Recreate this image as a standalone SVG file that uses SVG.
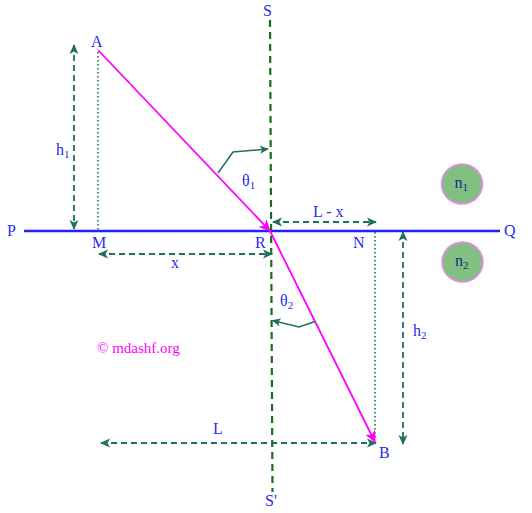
<svg xmlns="http://www.w3.org/2000/svg" width="532" height="513" viewBox="0 0 532 513">
<defs>
<style>
.lbl{font-family:"Liberation Serif","Times New Roman",serif;font-size:16px;fill:#2a2af0;}
.sub{font-size:11px;}
.dim{stroke:#1f6e62;stroke-width:1.8;stroke-dasharray:6,4;fill:none;}
.dot{stroke:#1f6e62;stroke-width:1.6;stroke-dasharray:1.5,2.5;fill:none;}
.norm{stroke:#1a6e1a;stroke-width:2.2;stroke-dasharray:7,5;fill:none;}
.ray{stroke:#ff00ff;stroke-width:1.8;fill:none;}
.lead{stroke:#1f6e62;stroke-width:1.5;fill:none;}
.med{fill:#82bf82;stroke:#ee88ee;stroke-width:1.5;}
.n{font-family:"Liberation Serif","Times New Roman",serif;font-size:16px;fill:#1a2a7a;}
</style>
<marker id="ah" viewBox="0 0 10 10" refX="9" refY="5" markerWidth="10" markerHeight="10" orient="auto-start-reverse" markerUnits="userSpaceOnUse">
<path d="M0,0.5 L10,5 L0,9.5 L2.5,5 z" fill="#1f6e62"/>
</marker>
<marker id="am" viewBox="0 0 10 10" refX="9" refY="5" markerWidth="12" markerHeight="12" orient="auto" markerUnits="userSpaceOnUse">
<path d="M0,0.5 L10,5 L0,9.5 L2.5,5 z" fill="#ff00ff"/>
</marker>
<marker id="al" viewBox="0 0 10 10" refX="9" refY="5" markerWidth="9" markerHeight="9" orient="auto" markerUnits="userSpaceOnUse">
<path d="M0,0.5 L10,5 L0,9.5 L2.5,5 z" fill="#1f6e62"/>
</marker>
</defs>
<g id="surface">
<line x1="24" y1="231" x2="500" y2="231" stroke="#2020ff" stroke-width="2.6"/>
<text class="lbl" x="7" y="236">P</text>
<text class="lbl" x="504" y="236">Q</text>
</g>
<g id="normal">
<line class="norm" x1="270" y1="20" x2="272.5" y2="492"/>
<text class="lbl" x="263" y="16">S</text>
<text class="lbl" x="265" y="506">S'</text>
</g>
<g id="connectors">
<line class="dot" x1="98" y1="52" x2="98" y2="231"/>
<line class="dot" x1="375" y1="232" x2="375" y2="440"/>
<line class="dim" x1="74" y1="45" x2="74" y2="229" marker-start="url(#ah)" marker-end="url(#ah)"/>
<line class="dim" x1="99" y1="254" x2="272" y2="254" marker-start="url(#ah)" marker-end="url(#ah)"/>
<line class="dim" x1="273" y1="222" x2="376" y2="222" marker-start="url(#ah)" marker-end="url(#ah)"/>
<line class="dim" x1="403" y1="232" x2="403" y2="444" marker-start="url(#ah)" marker-end="url(#ah)"/>
<line class="dim" x1="101" y1="443" x2="376" y2="443" marker-start="url(#ah)" marker-end="url(#ah)"/>
<line class="ray" x1="98" y1="50" x2="270" y2="231" marker-end="url(#am)"/>
<line class="ray" x1="270" y1="231" x2="375" y2="442" marker-end="url(#am)"/>
<polyline class="lead" points="218,173 233,152 268,149" marker-end="url(#al)"/>
<polyline class="lead" points="315,321.5 299,327 272.5,320.5" marker-end="url(#al)"/>
</g>
<g id="A"><text class="lbl" x="91" y="47">A</text></g>
<g id="B"><text class="lbl" x="379" y="458">B</text></g>
<g id="M"><text class="lbl" x="92" y="248">M</text></g>
<g id="R"><text class="lbl" x="255" y="248">R</text></g>
<g id="N"><text class="lbl" x="353" y="248">N</text></g>
<g id="labels">
<text class="lbl" x="56" y="155">h<tspan class="sub" dy="3">1</tspan></text>
<text class="lbl" x="413" y="336">h<tspan class="sub" dy="3">2</tspan></text>
<text class="lbl" x="171" y="268">x</text>
<text class="lbl" x="313" y="217">L - x</text>
<text class="lbl" x="213" y="434">L</text>
<text class="lbl" x="242" y="186">θ<tspan class="sub" dy="3">1</tspan></text>
<text class="lbl" x="280" y="306">θ<tspan class="sub" dy="3">2</tspan></text>
<text x="97" y="353" font-family="'Liberation Serif','Times New Roman',serif" font-size="15" fill="#ff00ff">© mdashf.org</text>
</g>
<g id="n1">
<ellipse class="med" cx="462" cy="184" rx="20.5" ry="20"/>
<text class="n" x="454.5" y="188">n<tspan class="sub" dy="3">1</tspan></text>
</g>
<g id="n2">
<ellipse class="med" cx="462.5" cy="262" rx="20.5" ry="20"/>
<text class="n" x="455" y="266">n<tspan class="sub" dy="3">2</tspan></text>
</g>
</svg>
